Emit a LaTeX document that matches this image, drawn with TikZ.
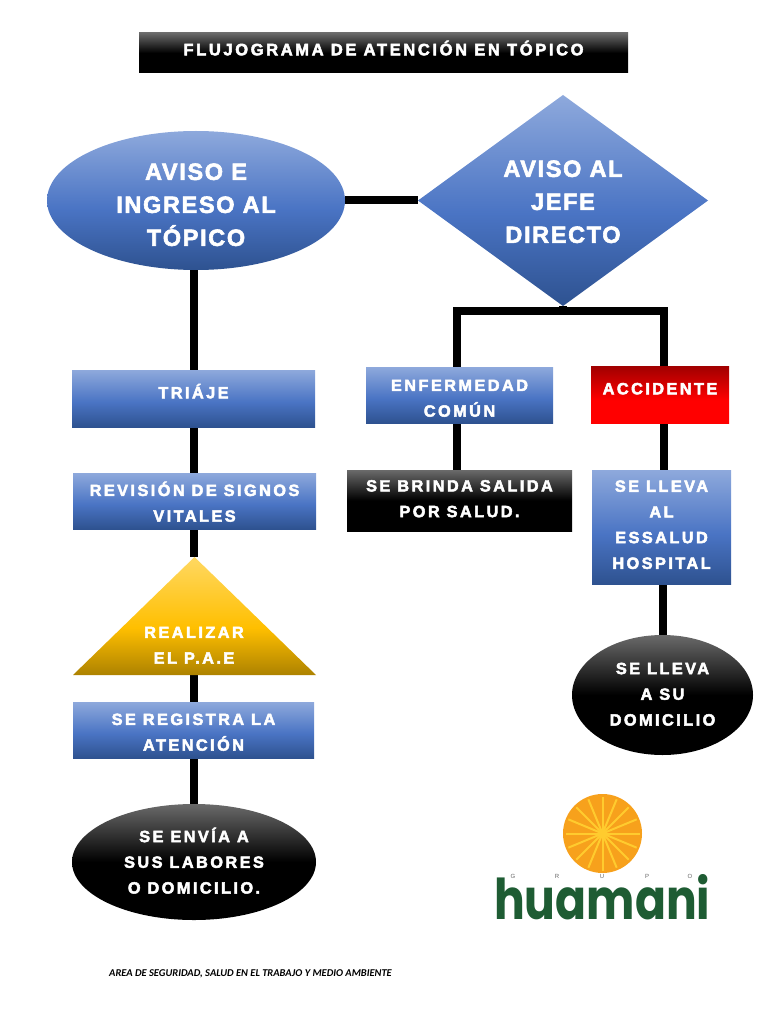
\documentclass[tikz,border=0pt]{standalone}
\usepackage{fontspec}
\usepackage{graphicx}
\usetikzlibrary{shapes.geometric}
\setmainfont{Liberation Sans}
\newfontfamily\labfont[LetterSpace=15,BoldFeatures={FakeBold=3,LetterSpace=15}]{Liberation Sans}
\newfontfamily\titlefont[LetterSpace=16,BoldFeatures={FakeBold=3,LetterSpace=16}]{Liberation Sans}
\newfontfamily\bigfont[LetterSpace=7,BoldFeatures={FakeBold=2.5,LetterSpace=7}]{Liberation Sans}
\newfontfamily\logofont{Poppins}
\newfontfamily\footfont{Carlito}
\pgfdeclarelayer{back}
\pgfsetlayers{back,main}
\definecolor{bluetop}{HTML}{8EA9DC}
\definecolor{bluemid}{HTML}{4A74C4}
\definecolor{bluebot}{HTML}{2E5290}
\definecolor{goldtop}{HTML}{FFD862}
\definecolor{goldmid}{HTML}{FFBF00}
\definecolor{goldbot}{HTML}{AD8200}
\definecolor{blacktop}{HTML}{6A6A6A}
\definecolor{redtop}{HTML}{A00000}
\definecolor{logogreen}{HTML}{1E5C33}
\definecolor{logoorange}{HTML}{F7A11C}
\definecolor{logoray}{HTML}{FFCB2E}
\pgfdeclareverticalshading{bluegrad}{100bp}{color(0bp)=(bluebot);color(25bp)=(bluebot);color(47bp)=(bluemid);color(75bp)=(bluetop);color(100bp)=(bluetop)}
\pgfdeclareverticalshading{goldgrad}{100bp}{color(0bp)=(goldbot);color(25bp)=(goldbot);color(45bp)=(goldmid);color(75bp)=(goldtop);color(100bp)=(goldtop)}
\pgfdeclareverticalshading{blackgrad}{100bp}{color(0bp)=(black);color(25bp)=(black);color(50bp)=(black);color(75bp)=(blacktop);color(100bp)=(blacktop)}
\pgfdeclareverticalshading{redgrad}{100bp}{color(0bp)=(red);color(25bp)=(red);color(45bp)=(red);color(75bp)=(redtop);color(100bp)=(redtop)}
\newcommand{\tx}[2]{\smash{\raisebox{#1pt}{\begin{tabular}{@{}c@{}}#2\end{tabular}}}}
\tikzset{
  shp/.style={inner sep=0pt,outer sep=0pt,text=white,draw=none},
  big/.style={font=\bigfont\bfseries\fontsize{23.5}{33}\selectfont},
  mid/.style={font=\labfont\bfseries\fontsize{16.3}{25.7}\selectfont},
  blue/.style={shp,shading=bluegrad},
  goldf/.style={shp,shading=goldgrad},
  blk/.style={shp,shading=blackgrad},
  redf/.style={shp,shading=redgrad},
  conn/.style={line width=8pt,black,line cap=butt},
}
\begin{document}
\begin{tikzpicture}[x=1pt,y=-1pt]
\useasboundingbox (0,0) rectangle (768,1024);
\node[blk,rectangle,minimum width=489pt,minimum height=40pt,font=\titlefont\bfseries\fontsize{16.5}{18}\selectfont] (title) at (383.5,53) {\tx{-2}{FLUJOGRAMA DE ATENCIÓN EN TÓPICO}};
\node[blue,ellipse,big,minimum width=298pt,minimum height=139pt] (av) at (196,200.5) {\tx{-12}{AVISO E\\INGRESO AL\\TÓPICO}};
\node[blue,diamond,big,aspect=1.374,minimum width=290pt,minimum height=211pt] (dj) at (563,200.5) {\tx{-9}{AVISO AL\\JEFE\\DIRECTO}};
\node[blue,rectangle,mid,minimum width=243pt,minimum height=57pt] (triaje) at (193.5,398.5) {\tx{1}{TRIÁJE}};
\node[blue,rectangle,mid,minimum width=243pt,minimum height=56pt] (rev) at (194.5,501) {\tx{-7}{REVISIÓN DE SIGNOS\\VITALES}};
\node[goldf,isosceles triangle,isosceles triangle stretches,shape border rotate=90,minimum width=243pt,minimum height=118pt,mid,anchor=apex] (pae) at (194.5,557) {};
\node[mid,text=white,inner sep=0pt] (paet) at (194,644) {\tx{-6}{REALIZAR\\EL P.A.E}};
\node[blue,rectangle,mid,minimum width=241pt,minimum height=56pt] (reg) at (193.5,730) {\tx{-7}{SE REGISTRA LA\\ATENCIÓN}};
\node[blk,ellipse,mid,minimum width=244pt,minimum height=116pt] (env) at (194,862) {\tx{-5}{SE ENVÍA A\\SUS LABORES\\O DOMICILIO.}};
\node[blue,rectangle,mid,minimum width=187pt,minimum height=56pt] (enf) at (459.5,395) {\tx{-8}{ENFERMEDAD\\COMÚN}};
\node[redf,rectangle,mid,minimum width=138pt,minimum height=57pt] (acc) at (660,394.5) {\tx{1}{ACCIDENTE}};
\node[blk,rectangle,mid,minimum width=225pt,minimum height=61pt] (sal) at (459.5,500.5) {\tx{-3}{SE BRINDA SALIDA\\POR SALUD.}};
\node[blue,rectangle,mid,minimum width=139pt,minimum height=114pt] (lle) at (661.5,527) {\tx{-2.5}{SE LLEVA\\AL\\ESSALUD\\HOSPITAL}};
\node[blk,ellipse,mid,minimum width=181pt,minimum height=120pt] (dom) at (662.5,695) {\tx{-4}{SE LLEVA\\A SU\\DOMICILIO}};
\coordinate (bl) at (457,311);
\coordinate (br) at (663.5,311);
\begin{pgfonlayer}{back}
\draw[conn] (av.east) -- (dj.west);
\draw[conn] (triaje.north |- av.south) -- (triaje.north);
\draw[conn] (triaje.south) -- (triaje.south |- rev.north);
\draw[conn] (triaje.south |- rev.south) -- (triaje.south |- pae.apex);
\draw[conn] (triaje.south |- paet.south) -- (triaje.south |- reg.north);
\draw[conn] (reg.south) -- (reg.south |- env.north);
\draw[conn,line cap=rect] (enf.north -| bl) -- (bl) -- (br) -- (acc.north -| br);
\draw[conn] (dj.south) -- (dj.south |- bl);
\draw[conn] (bl |- enf.south) -- (bl |- sal.north);
\draw[conn] (br |- acc.south) -- (br |- lle.north);
\draw[conn] (lle.south -| dom.north) -- (dom.north);
\end{pgfonlayer}
% logo
\fill[logoorange] (602.5,833.5) circle (39.5pt);
\foreach \a in {0,22.5,...,337.5}{
  \draw[logoray,line width=2pt] (602.5,833.5) -- ++(\a:37);
}
\fill[logoray] (602.5,833.5) circle (5pt);
\node[inner sep=0pt,anchor=south west,text=logogreen] (hua) at (494,920) {\resizebox{216pt}{45pt}{\logofont\bfseries huamani}};
\foreach \l/\x in {G/513,R/557,U/602,P/647,O/690}{
  \node[inner sep=0pt,text=black!60,font=\fontsize{6}{7}\selectfont] (g\l) at (\x,876) {\l};
}
\node[inner sep=0pt,anchor=west,font=\footfont\bfseries\itshape\fontsize{10.45}{12}\selectfont] (foot) at (109,974) {AREA DE SEGURIDAD, SALUD EN EL TRABAJO Y MEDIO AMBIENTE};
\end{tikzpicture}
\end{document}
